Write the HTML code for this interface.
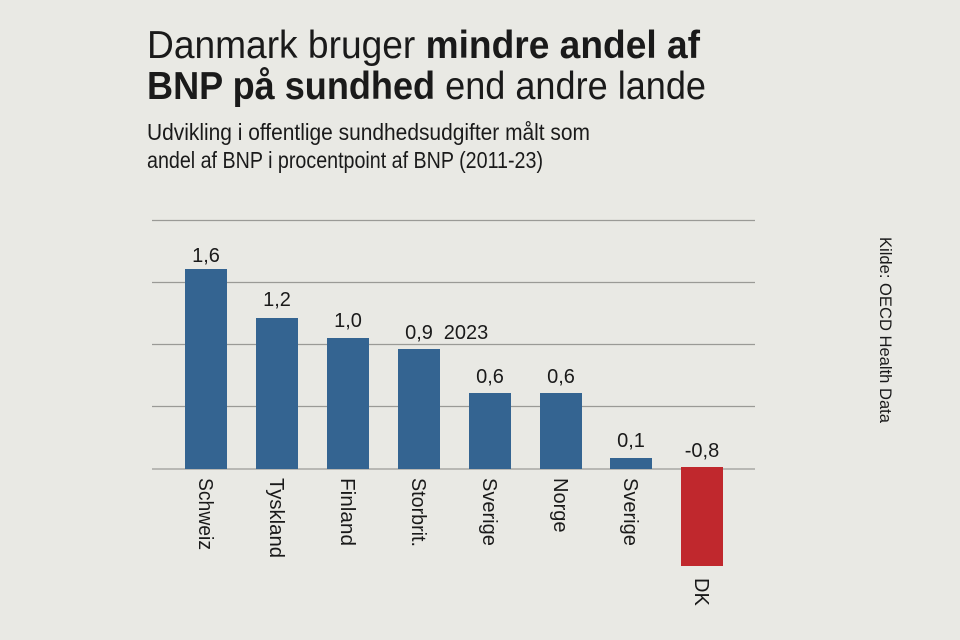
<!DOCTYPE html>
<html><head><meta charset="utf-8"><style>
body{margin:0;background:#e9e9e4;}
svg{display:block;font-family:"Liberation Sans Narrow","Liberation Sans",sans-serif;}
</style></head><body>
<svg width="960" height="640" viewBox="0 0 960 640">
<rect width="960" height="640" fill="#e9e9e4"/>
<text x="147" y="58" font-size="39" fill="#1a1a1a" textLength="553" lengthAdjust="spacingAndGlyphs">Danmark bruger <tspan font-weight="bold">mindre andel af</tspan></text>
<text x="147" y="99" font-size="39" fill="#1a1a1a" textLength="559" lengthAdjust="spacingAndGlyphs"><tspan font-weight="bold">BNP på sundhed</tspan> end andre lande</text>
<text x="147" y="140" font-size="23" fill="#1a1a1a" textLength="443" lengthAdjust="spacingAndGlyphs">Udvikling i offentlige sundhedsudgifter målt som</text>
<text x="147" y="168" font-size="23" fill="#1a1a1a" textLength="396" lengthAdjust="spacingAndGlyphs">andel af BNP i procentpoint af BNP (2011-23)</text>
<g stroke="#9a9a96" stroke-width="1.2">
<line x1="152" y1="220.5" x2="755" y2="220.5"/>
<line x1="152" y1="282.5" x2="755" y2="282.5"/>
<line x1="152" y1="344.5" x2="755" y2="344.5"/>
<line x1="152" y1="406.5" x2="755" y2="406.5"/>
<line x1="152" y1="469" x2="755" y2="469"/>
</g>
<g fill="#346491">
<rect x="185" y="269" width="42" height="200"/>
<rect x="256" y="318" width="42" height="151"/>
<rect x="327" y="338" width="42" height="131"/>
<rect x="398" y="349" width="42" height="120"/>
<rect x="469" y="393" width="42" height="76"/>
<rect x="540" y="393" width="42" height="76"/>
<rect x="610" y="458" width="42" height="11"/>
</g>
<rect x="681" y="467" width="42" height="99" fill="#c0282d"/>
<g font-size="20" fill="#1a1a1a" text-anchor="middle">
<text x="206" y="262">1,6</text>
<text x="277" y="306">1,2</text>
<text x="348" y="327">1,0</text>
<text x="419" y="339">0,9</text>
<text x="466" y="339">2023</text>
<text x="490" y="383">0,6</text>
<text x="561" y="383">0,6</text>
<text x="631" y="447">0,1</text>
<text x="702" y="457">-0,8</text>
</g>
<g font-size="20" fill="#1a1a1a">
<text transform="translate(199,478) rotate(90)" textLength="72" lengthAdjust="spacingAndGlyphs">Schweiz</text>
<text transform="translate(270,478) rotate(90)" textLength="80" lengthAdjust="spacingAndGlyphs">Tyskland</text>
<text transform="translate(341,478) rotate(90)" textLength="68" lengthAdjust="spacingAndGlyphs">Finland</text>
<text transform="translate(412,478) rotate(90)" textLength="69" lengthAdjust="spacingAndGlyphs">Storbrit.</text>
<text transform="translate(483,478) rotate(90)">Sverige</text>
<text transform="translate(554,478) rotate(90)">Norge</text>
<text transform="translate(624,478) rotate(90)">Sverige</text>
<text transform="translate(695,578) rotate(90)">DK</text>
<text font-size="17" transform="translate(880,237) rotate(90)" textLength="186" lengthAdjust="spacingAndGlyphs">Kilde: OECD Health Data</text>
</g>
</svg>
</body></html>
